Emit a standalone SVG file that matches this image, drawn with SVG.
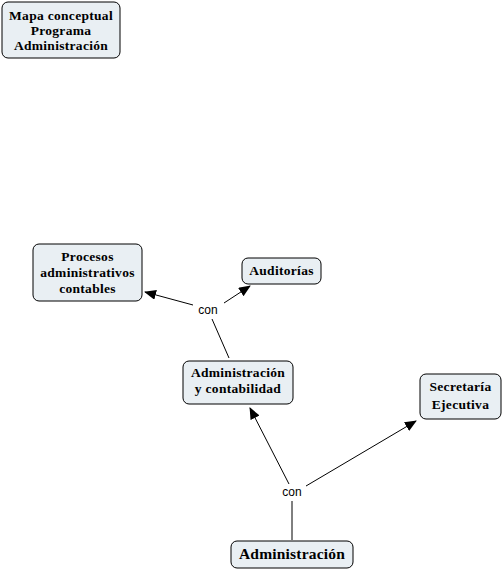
<svg xmlns="http://www.w3.org/2000/svg" width="503" height="569" viewBox="0 0 503 569">
<style>
.box{fill:#e9eff3;stroke:#000;stroke-width:1}
.t{font-family:"Liberation Serif",serif;font-weight:bold;font-size:13.5px;letter-spacing:0.3px;fill:#000;text-anchor:middle}
.big{font-size:15.5px;letter-spacing:0.2px}
.lbl{font-family:"Liberation Sans",sans-serif;font-size:12px;fill:#000;text-anchor:middle}
.ln{stroke:#000;stroke-width:1;fill:none}
</style>
<defs>
<marker id="ah" markerWidth="12" markerHeight="10" refX="11" refY="5" orient="auto" markerUnits="userSpaceOnUse">
<path d="M0,0 L12,5 L0,10 Z" fill="#000"/>
</marker>
</defs>
<rect width="503" height="569" fill="#fff"/>
<g id="connectors">
<line class="ln" x1="229" y1="358" x2="212" y2="319"/>
<line class="ln" x1="193" y1="305" x2="145" y2="292" marker-end="url(#ah)"/>
<line class="ln" x1="224" y1="303" x2="250" y2="286" marker-end="url(#ah)"/>
<line class="ln" x1="292" y1="540" x2="292" y2="501"/>
<line class="ln" x1="289" y1="484" x2="250" y2="408" marker-end="url(#ah)"/>
<line class="ln" x1="306" y1="486" x2="416" y2="421" marker-end="url(#ah)"/>
<text class="lbl" x="208" y="314">con</text>
<text class="lbl" x="292" y="496">con</text>
</g>
<g id="titulo">
<rect class="box" x="2" y="2" width="118" height="56" rx="6"/>
<text class="t" x="61" y="20">Mapa conceptual</text>
<text class="t" x="61" y="35">Programa</text>
<text class="t" x="61" y="50">Administración</text>
</g>
<g id="procesos">
<rect class="box" x="33" y="244" width="109" height="57" rx="6"/>
<text class="t" x="87.5" y="261">Procesos</text>
<text class="t" x="87.5" y="277">administrativos</text>
<text class="t" x="87.5" y="293">contables</text>
</g>
<g id="auditorias">
<rect class="box" x="242" y="258" width="79" height="26" rx="6"/>
<text class="t" x="281.5" y="275">Auditorías</text>
</g>
<g id="admcont">
<rect class="box" x="183" y="361" width="110" height="43" rx="6"/>
<text class="t" x="238" y="377">Administración</text>
<text class="t" x="238" y="393">y contabilidad</text>
</g>
<g id="secretaria">
<rect class="box" x="420" y="374" width="81" height="45" rx="6"/>
<text class="t" x="460.5" y="391">Secretaría</text>
<text class="t" x="460.5" y="409">Ejecutiva</text>
</g>
<g id="administracion">
<rect class="box" x="231" y="541" width="122" height="27" rx="6"/>
<text class="t big" x="292" y="559">Administración</text>
</g>
</svg>
